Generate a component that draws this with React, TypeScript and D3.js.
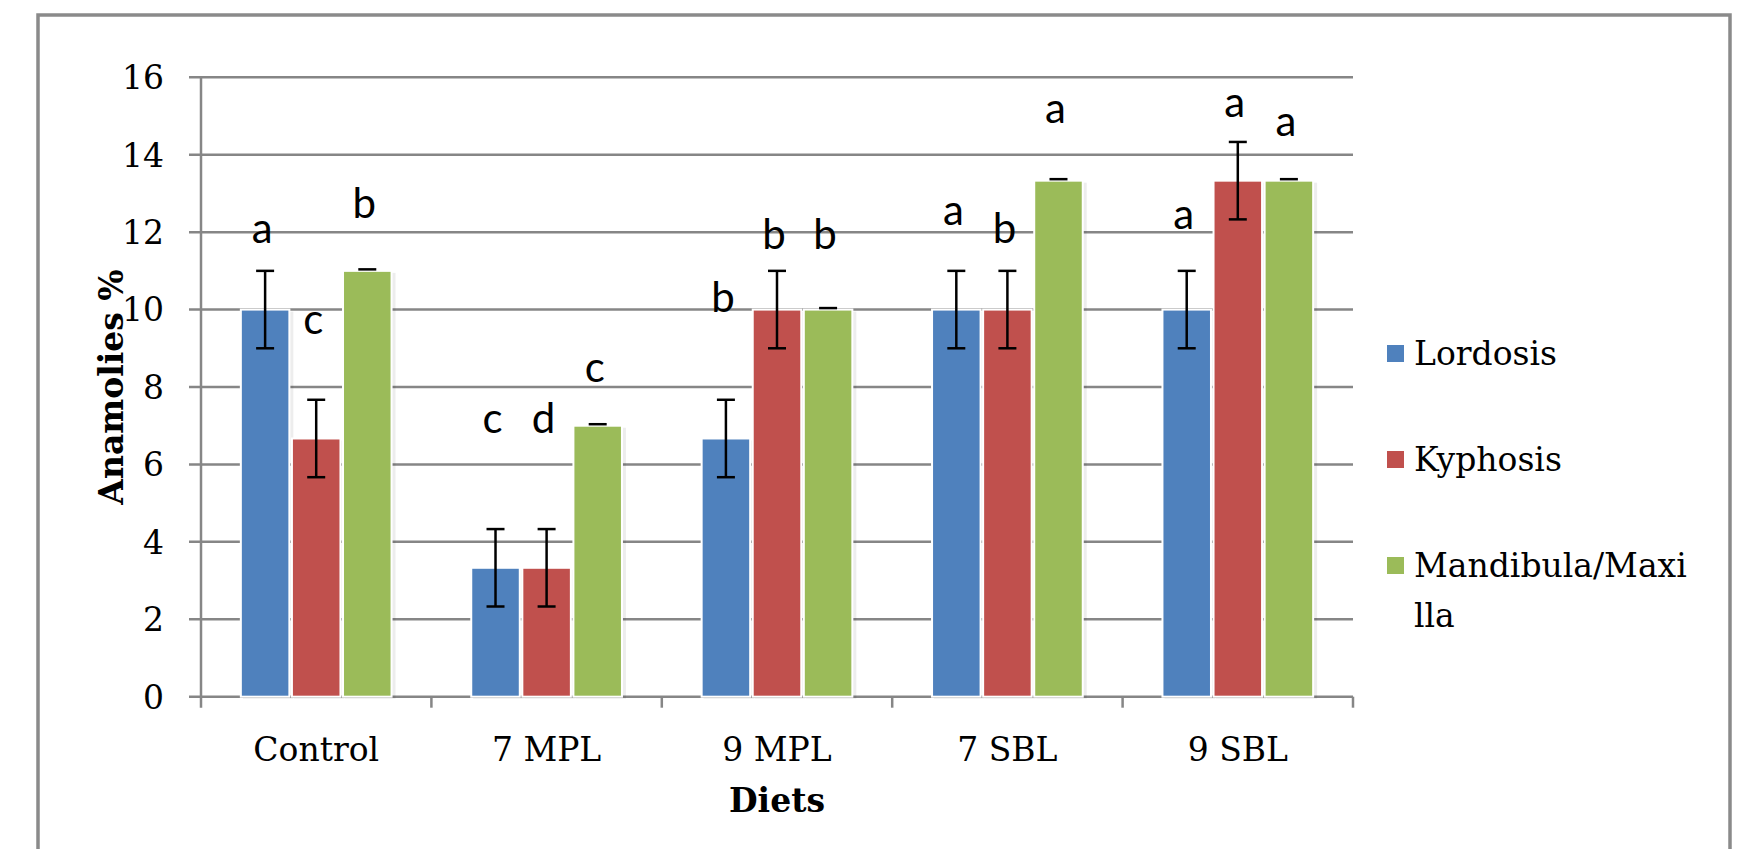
import * as d3 from 'd3';
import * as React from 'react';

const diets = ['Control', '7 MPL', '9 MPL', '7 SBL', '9 SBL'];
const seriesNames = ['Lordosis', 'Kyphosis', 'Mandibula/Maxilla'];
const seriesColors = ['#4F81BD', '#C0504D', '#9BBB59'];

const lordosis = [10, 3.33, 6.67, 10, 10];
const kyphosis = [6.67, 3.33, 10, 10, 13.33];
const mandibula = [11, 7, 10, 13.33, 13.33];

const lordosisErr = [1, 1, 1, 1, 1];
const kyphosisErr = [1, 1, 1, 1, 1];
const mandibulaErr = [0, 0, 0, 0, 0];

// significance letters and the height (in %) they sit at
const lordosisLetters = ['a', 'c', 'b', 'a', 'a'];
const kyphosisLetters = ['c', 'd', 'b', 'b', 'a'];
const mandibulaLetters = ['b', 'c', 'b', 'a', 'a'];
const lordosisLetterAt = [12.05, 7.15, 10.25, 12.5, 12.4];
const kyphosisLetterAt = [9.7, 7.15, 11.9, 12.05, 15.3];
const mandibulaLetterAt = [12.7, 8.45, 11.9, 15.15, 14.8];

const yTicks = [0, 2, 4, 6, 8, 10, 12, 14, 16];

const values = [lordosis, kyphosis, mandibula];
const errors = [lordosisErr, kyphosisErr, mandibulaErr];
const letters = [lordosisLetters, kyphosisLetters, mandibulaLetters];
const letterAt = [lordosisLetterAt, kyphosisLetterAt, mandibulaLetterAt];

const W = 1748;
const H = 849;
const left = 201;
const right = 1353;
const top = 77.3;
const bottom = 696.7;

const serif = "'DejaVu Serif', serif";
const sans = "Lato, 'Open Sans', sans-serif";

export default function App() {
  const x0 = d3.scaleBand<string>().domain(diets).range([left, right]);
  const x1 = d3
    .scaleBand<string>()
    .domain(seriesNames)
    .range([0, x0.bandwidth()])
    .paddingInner(0.05)
    .paddingOuter(0.78);
  const y = d3.scaleLinear().domain([0, 16]).range([bottom, top]);
  const grid = '#868686';
  const cap = 9;

  return (
    <svg width={W} height={H} style={{ position: 'absolute', left: 0, top: 0, background: '#fff' }}>
      <rect x={38} y={15} width={1692} height={860} fill="#fff" stroke="#8a8a8a" strokeWidth={3.5} />

      {/* gridlines + y ticks */}
      {yTicks.map((t) => (
        <g key={t}>
          <line x1={left - 12} x2={right} y1={y(t)} y2={y(t)} stroke={grid} strokeWidth={2.5} />
          <text
            x={164}
            y={y(t)}
            dy="0.36em"
            textAnchor="end"
            fontFamily={serif}
            fontSize={33}
            fill="#000"
          >
            {t}
          </text>
        </g>
      ))}
      <line x1={left} x2={left} y1={top} y2={bottom + 11} stroke={grid} strokeWidth={2.5} />
      {diets.map((d) => (
        <line key={d} x1={x0(d)! + x0.bandwidth()} x2={x0(d)! + x0.bandwidth()} y1={bottom} y2={bottom + 11} stroke={grid} strokeWidth={2.5} />
      ))}

      {/* bars */}
      {seriesNames.map((s, si) =>
        diets.map((d, di) => {
          const bx = x0(d)! + x1(s)!;
          const v = values[si][di];
          return (
            <g key={s + d}>
              <rect
                x={bx + 2}
                y={y(v) + 2}
                width={x1.bandwidth() + 2}
                height={bottom - y(v)}
                fill="#000"
                opacity={0.07}
              />
              <rect
                x={bx}
                y={y(v)}
                width={x1.bandwidth()}
                height={bottom - y(v)}
                fill={seriesColors[si]}
                stroke="#fff"
                strokeWidth={2}
              />
            </g>
          );
        })
      )}

      {/* error bars */}
      {seriesNames.map((s, si) =>
        diets.map((d, di) => {
          const cx = x0(d)! + x1(s)! + x1.bandwidth() / 2;
          const v = values[si][di];
          const e = errors[si][di];
          const hi = e === 0 ? y(v) - 1.5 : y(v + e);
          const lo = y(v - e);
          return (
            <g key={'e' + s + d} stroke="#000" strokeWidth={2.5}>
              {e > 0 && <line x1={cx} x2={cx} y1={hi} y2={lo} />}
              <line x1={cx - cap} x2={cx + cap} y1={hi} y2={hi} />
              {e > 0 && <line x1={cx - cap} x2={cx + cap} y1={lo} y2={lo} />}
            </g>
          );
        })
      )}

      {/* letters */}
      {seriesNames.map((s, si) =>
        diets.map((d, di) => (
          <text
            key={'l' + s + d}
            x={x0(d)! + x1(s)! + x1.bandwidth() / 2 - 3}
            y={y(letterAt[si][di])}
            dy="0.3em"
            textAnchor="middle"
            fontFamily={sans}
            fontSize={42}
            fill="#000"
          >
            {letters[si][di]}
          </text>
        ))
      )}

      {/* x labels */}
      {diets.map((d) => (
        <text
          key={'x' + d}
          x={x0(d)! + x0.bandwidth() / 2}
          y={749}
          dy="0.36em"
          textAnchor="middle"
          fontFamily={serif}
          fontSize={33}
          fill="#000"
        >
          {d}
        </text>
      ))}
      <text x={(left + right) / 2} y={800} dy="0.36em" textAnchor="middle" fontFamily={serif} fontSize={33} fontWeight="bold">
        Diets
      </text>
      <text
        transform={`translate(111, ${(top + bottom) / 2}) rotate(-90)`}
        textAnchor="middle"
        dy="0.36em"
        fontFamily={serif}
        fontSize={33}
        fontWeight="bold"
      >
        Anamolies %
      </text>

      {/* legend */}
      {seriesNames.map((s, si) => {
        const ly = 353 + si * 106;
        const lines = si === 2 ? ['Mandibula/Maxi', 'lla'] : [s];
        return (
          <g key={'lg' + s}>
            <rect x={1387} y={ly - 8} width={17} height={17} fill={seriesColors[si]} />
            {lines.map((t, li) => (
              <text key={t} x={1414} y={ly + li * 50} dy="0.36em" fontFamily={serif} fontSize={33}>
                {t}
              </text>
            ))}
          </g>
        );
      })}
    </svg>
  );
}
